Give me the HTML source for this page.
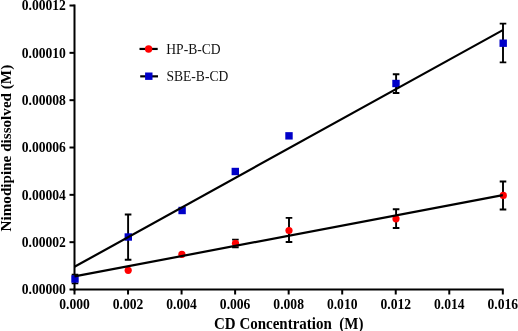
<!DOCTYPE html>
<html><head><meta charset="utf-8"><title>Nimodipine solubility</title>
<style>html,body{margin:0;padding:0;background:#fff;width:518px;height:331px;overflow:hidden}svg{display:block}</style>
</head><body>
<svg width="518" height="331" viewBox="0 0 518 331">
<rect width="518" height="331" fill="#fff"/>
<g stroke="#000" stroke-width="2" fill="none" stroke-linecap="butt">
<path d="M74.5 4.6V290.6"/>
<path d="M73.5 289.6H503.7"/>
<path d="M69.5 289.50H74.5"/>
<path d="M69.5 242.17H74.5"/>
<path d="M69.5 194.84H74.5"/>
<path d="M69.5 147.51H74.5"/>
<path d="M69.5 100.18H74.5"/>
<path d="M69.5 52.85H74.5"/>
<path d="M69.5 5.52H74.5"/>
<path d="M74.50 289.5V294.5"/>
<path d="M128.04 289.5V294.5"/>
<path d="M181.58 289.5V294.5"/>
<path d="M235.12 289.5V294.5"/>
<path d="M288.66 289.5V294.5"/>
<path d="M342.20 289.5V294.5"/>
<path d="M395.74 289.5V294.5"/>
<path d="M449.28 289.5V294.5"/>
<path d="M502.82 289.5V294.5"/>
</g>
<g font-family="Liberation Serif, serif" font-weight="bold" font-size="13.6px" fill="#000">
<text transform="translate(65.9 294.30) scale(1 1.095)" text-anchor="end">0.00000</text>
<text transform="translate(65.9 246.97) scale(1 1.095)" text-anchor="end">0.00002</text>
<text transform="translate(65.9 199.64) scale(1 1.095)" text-anchor="end">0.00004</text>
<text transform="translate(65.9 152.31) scale(1 1.095)" text-anchor="end">0.00006</text>
<text transform="translate(65.9 104.98) scale(1 1.095)" text-anchor="end">0.00008</text>
<text transform="translate(65.9 57.65) scale(1 1.095)" text-anchor="end">0.00010</text>
<text transform="translate(65.9 10.32) scale(1 1.095)" text-anchor="end">0.00012</text>
<text transform="translate(74.50 309.1) scale(1 1.095)" text-anchor="middle">0.000</text>
<text transform="translate(128.04 309.1) scale(1 1.095)" text-anchor="middle">0.002</text>
<text transform="translate(181.58 309.1) scale(1 1.095)" text-anchor="middle">0.004</text>
<text transform="translate(235.12 309.1) scale(1 1.095)" text-anchor="middle">0.006</text>
<text transform="translate(288.66 309.1) scale(1 1.095)" text-anchor="middle">0.008</text>
<text transform="translate(342.20 309.1) scale(1 1.095)" text-anchor="middle">0.010</text>
<text transform="translate(395.74 309.1) scale(1 1.095)" text-anchor="middle">0.012</text>
<text transform="translate(449.28 309.1) scale(1 1.095)" text-anchor="middle">0.014</text>
<text transform="translate(502.82 309.1) scale(1 1.095)" text-anchor="middle">0.016</text>
</g>
<text transform="translate(288.7 328.7) scale(1 1.06)" text-anchor="middle" font-family="Liberation Serif, serif" font-weight="bold" font-size="15px" style="white-space:pre">CD Concentration  (M)</text>
<text transform="translate(10.8 148.1) rotate(-90) scale(1.01 1.02)" text-anchor="middle" font-family="Liberation Serif, serif" font-weight="bold" font-size="15px">Nimodipine dissolved (M)</text>
<g stroke="#000" stroke-width="1.9" fill="none">
<path d="M75.00 274.70V283.40M71.70 274.70H78.30M71.70 283.40H78.30"/>
<path d="M128.10 214.50V259.80M124.80 214.50H131.40M124.80 259.80H131.40"/>
<path d="M396.10 74.30V93.00M392.80 74.30H399.40M392.80 93.00H399.40"/>
<path d="M503.00 23.60V62.40M499.70 23.60H506.30M499.70 62.40H506.30"/>
<path d="M235.40 239.60V247.20M232.10 239.60H238.70M232.10 247.20H238.70"/>
<path d="M289.00 217.90V242.00M285.70 217.90H292.30M285.70 242.00H292.30"/>
<path d="M396.10 209.30V228.00M392.80 209.30H399.40M392.80 228.00H399.40"/>
<path d="M503.00 181.50V209.50M499.70 181.50H506.30M499.70 209.50H506.30"/>
</g>
<g fill="#f00">
<circle cx="128.2" cy="270.3" r="3.6"/>
<circle cx="181.9" cy="254.3" r="3.6"/>
<circle cx="235.5" cy="243.3" r="3.6"/>
<circle cx="289.0" cy="230.5" r="3.6"/>
<circle cx="396.0" cy="218.8" r="3.6"/>
<circle cx="503.3" cy="195.4" r="3.6"/>
</g>
<g fill="#0000c8">
<rect x="71.30" y="275.30" width="7.4" height="7.4"/>
<rect x="124.60" y="233.30" width="7.4" height="7.4"/>
<rect x="178.40" y="206.80" width="7.4" height="7.4"/>
<rect x="231.60" y="167.80" width="7.4" height="7.4"/>
<rect x="285.30" y="132.15" width="7.4" height="7.4"/>
<rect x="392.30" y="79.80" width="7.4" height="7.4"/>
<rect x="499.50" y="39.50" width="7.4" height="7.4"/>
</g>
<g stroke="#000" stroke-width="2.2" fill="none">
<path d="M74.5 266.8L502.8 30.1"/>
<path d="M74.5 276.4L502.8 195.2"/>
</g>
<g stroke="#000" stroke-width="2.2">
<path d="M139.5 48.95H157.7"/>
<path d="M140.2 76.35H158.0"/>
</g>
<circle cx="148.6" cy="48.95" r="3.7" fill="#f00"/>
<rect x="145.10" y="72.50" width="7.4" height="7.4" fill="#0000c8"/>
<g font-family="Liberation Serif, serif" font-size="13.6px" fill="#111">
<text transform="translate(166.3 53.9) scale(1 1.1)">HP-B-CD</text>
<text transform="translate(166.4 80.8) scale(1 1.1)">SBE-B-CD</text>
</g>
</svg>
</body></html>
